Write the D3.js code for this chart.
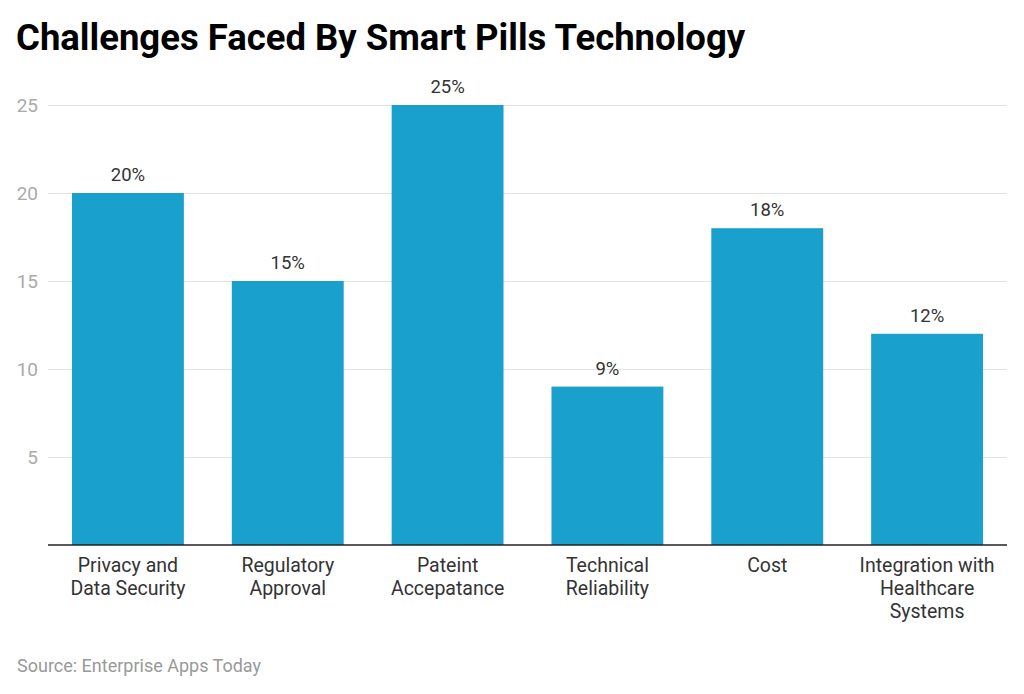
<!DOCTYPE html>
<html>
<head>
<meta charset="utf-8">
<script src="https://cdn.jsdelivr.net/npm/d3@7"></script>
<style>
  body { margin: 0; background: #fff; font-family: Roboto, "Noto Sans", sans-serif; }
</style>
</head>
<body>
<div id="chart"></div>
<script>
const categories = [
  ["Privacy and", "Data Security"],
  ["Regulatory", "Approval"],
  ["Pateint", "Accepatance"],
  ["Technical", "Reliability"],
  ["Cost"],
  ["Integration with", "Healthcare", "Systems"]
];
const values = [20, 15, 25, 9, 18, 12];
const yTicks = [5, 10, 15, 20, 25];

const width = 1024, height = 694;
const margin = { top: 105, right: 17, bottom: 149, left: 48 };
const innerW = width - margin.left - margin.right;
const innerH = height - margin.top - margin.bottom;

const svg = d3.select("#chart").append("svg")
  .attr("width", width)
  .attr("height", height);

svg.append("text")
  .attr("x", 16)
  .attr("y", 50)
  .attr("font-size", 36.5)
  .attr("font-weight", "bold")
  .attr("fill", "#000")
  .text("Challenges Faced By Smart Pills Technology");

const chart = svg.append("g")
  .attr("transform", `translate(${margin.left},${margin.top})`);

const x = d3.scaleBand()
  .domain(d3.range(categories.length))
  .range([0, innerW])
  .paddingInner(0.3)
  .paddingOuter(0.15);

const y = d3.scaleLinear().domain([0, 25]).range([innerH, 0]);

// gridlines + y labels
const yAxis = chart.append("g")
  .call(d3.axisLeft(y).tickValues(yTicks).tickSize(-innerW).tickPadding(10));
yAxis.select(".domain").remove();
yAxis.selectAll(".tick line").attr("stroke", "#e3e3e3");
yAxis.selectAll(".tick text")
  .attr("font-size", 19)
  .attr("font-family", "Roboto, sans-serif")
  .attr("fill", "#aaa");

chart.selectAll(".bar")
  .data(values)
  .enter().append("rect")
  .attr("class", "bar")
  .attr("x", (d, i) => x(i))
  .attr("y", d => y(d))
  .attr("width", x.bandwidth())
  .attr("height", d => innerH - y(d))
  .attr("fill", "#19a0cd");

chart.selectAll(".val")
  .data(values)
  .enter().append("text")
  .attr("class", "val")
  .attr("x", (d, i) => x(i) + x.bandwidth() / 2)
  .attr("y", d => y(d) - 12)
  .attr("text-anchor", "middle")
  .attr("font-size", 18.5)
  .attr("fill", "#333")
  .text(d => d + "%");

// baseline
chart.append("line")
  .attr("x1", 0).attr("x2", innerW)
  .attr("y1", innerH).attr("y2", innerH)
  .attr("stroke", "#222")
  .attr("stroke-width", 1.5);

const xl = chart.selectAll(".xlab")
  .data(categories)
  .enter().append("text")
  .attr("class", "xlab")
  .attr("text-anchor", "middle")
  .attr("font-size", 19.5)
  .attr("fill", "#333")
  .attr("transform", (d, i) => `translate(${x(i) + x.bandwidth() / 2},${innerH + 27})`);
xl.selectAll("tspan")
  .data(d => d)
  .enter().append("tspan")
  .attr("x", 0)
  .attr("dy", (d, i) => i === 0 ? 0 : 23)
  .text(d => d);

svg.append("text")
  .attr("x", 17)
  .attr("y", 672)
  .attr("font-size", 18)
  .attr("fill", "#999")
  .text("Source: Enterprise Apps Today");
</script>
</body>
</html>
